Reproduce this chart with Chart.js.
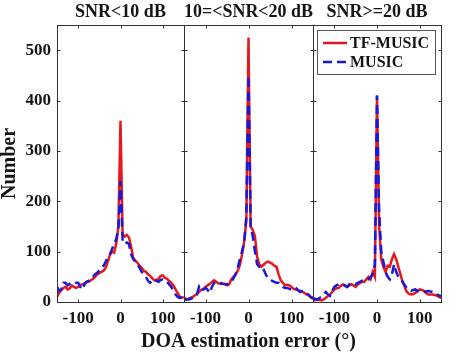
<!DOCTYPE html>
<html><head><meta charset="utf-8">
<script src="https://cdn.jsdelivr.net/npm/chart.js@4"></script>
<style>
html,body{margin:0;padding:0;background:#fff;}
#wrap{position:relative;width:474px;height:355px;overflow:hidden;background:#fff}
canvas{position:absolute;top:0}
</style></head><body>
<div id="wrap">
<canvas id="c1" width="200" height="355" style="left:0px"></canvas>
<canvas id="c2" width="300" height="355" style="left:100px"></canvas>
<canvas id="c3" width="224" height="355" style="left:250px"></canvas>
</div>
<script>
// ---- data ----
const errorBins = [-150,-145,-140,-135,-130,-125,-120,-115,-110,-105,-100,-95,-90,-85,-80,-75,-70,-65,-60,-55,-50,-45,-40,-35,-30,-25,-20,-15,-10,-5,0,5,10,15,20,25,30,35,40,45,50,55,60,65,70,75,80,85,90,95,100,105,110,115,120,125,130,135,140,145,150];
const panelTitles = ["SNR<10 dB", "10=<SNR<20 dB", "SNR>=20 dB"];
const seriesNames = ["TF-MUSIC", "MUSIC"];
const xTickValues = [-100, 0, 100];
const yTickValues = [0, 100, 200, 300, 400, 500];
const xAxisTitle = "DOA estimation error (°)";
const yAxisTitle = "Number";

const tfLow = [10,18,23,28,30,25,27,33,30,28,30,34,35,37,40,40,43,46,50,55,57,60,62,68,80,93,100,98,116,150,360,135,130,133,128,110,88,82,78,72,68,62,60,55,52,47,43,44,46,52,53,48,46,42,38,33,25,18,10,8,10];
const muLow = [30,22,25,38,38,33,36,38,36,38,38,30,25,35,40,42,45,50,55,58,63,68,72,80,90,95,105,115,125,145,240,120,115,118,115,95,85,80,75,68,60,55,50,42,38,42,45,42,40,44,45,42,40,35,30,22,15,10,8,12,12];
const tfMid = [8,6,6,8,10,13,16,20,24,26,30,33,36,40,43,40,37,36,36,36,33,35,45,50,55,62,73,95,120,162,525,150,143,130,90,75,70,74,78,80,78,76,72,70,55,43,38,33,34,33,30,26,25,23,22,20,18,15,13,9,6];
const muMid = [5,5,5,6,8,12,15,30,22,25,28,24,18,30,38,40,40,38,36,35,35,37,40,47,55,68,85,100,120,170,450,150,130,100,75,70,72,65,55,48,45,42,40,38,38,34,30,28,28,26,25,28,28,24,20,22,22,18,14,10,8];
const tfHigh = [3,4,5,4,3,5,8,12,15,20,25,27,28,32,35,33,30,33,35,33,30,35,38,40,40,45,50,45,60,50,410,150,85,70,60,72,70,85,95,85,70,55,40,30,20,16,15,16,18,22,25,24,22,18,15,15,15,14,13,10,8];
const muHigh = [8,6,5,8,10,15,20,15,12,22,30,33,35,36,35,32,30,35,38,37,35,38,40,42,42,44,45,50,55,75,410,180,100,80,60,50,45,55,75,60,50,45,40,33,28,25,22,24,25,22,20,20,20,21,22,21,20,18,15,13,12];

const tfMusic = [tfLow, tfMid, tfHigh];
const music = [muLow, muMid, muHigh];

// ---- style ----
const F = "'Liberation Serif', 'Times New Roman', serif";
const RED = 'rgb(230,24,30)';
const BLUE = 'rgb(24,24,215)';
const TXT = '#141414';
const FRAME = '#333333';

const framePlugin = {
  id: 'frame',
  afterDatasetsDraw(chart) {
    const {ctx, chartArea: a, scales: {x, y}} = chart;
    const L = Math.round(a.left) + 0.5, R = Math.round(a.right) + 0.5;
    const T = Math.round(a.top) + 0.5, B = Math.round(a.bottom) + 0.5;
    ctx.save();
    ctx.strokeStyle = FRAME; ctx.lineWidth = 1;
    ctx.beginPath();
    xTickValues.forEach(v => {
      const px = Math.round(x.getPixelForValue(v)) + 0.5;
      ctx.moveTo(px, B); ctx.lineTo(px, B - 3);
      ctx.moveTo(px, T); ctx.lineTo(px, T + 3);
    });
    yTickValues.forEach(v => {
      const py = Math.round(y.getPixelForValue(v)) + 0.5;
      ctx.moveTo(L, py); ctx.lineTo(L + 3, py);
      ctx.moveTo(R, py); ctx.lineTo(R - 3, py);
    });
    ctx.stroke();
    ctx.strokeRect(L, T, R - L, B - T);
    ctx.restore();
  }
};

const xTitlePlugin = {
  id: 'xTitle',
  afterDraw(chart) {
    const {ctx, chartArea: a} = chart;
    ctx.save();
    ctx.fillStyle = TXT; ctx.font = 'bold 20px ' + F;
    ctx.textAlign = 'center'; ctx.textBaseline = 'middle';
    ctx.fillText(xAxisTitle, (a.left + a.right) / 2, a.bottom + 40);
    ctx.restore();
  }
};

const legendPlugin = {
  id: 'boxLegend',
  afterDraw(chart) {
    const {ctx, chartArea: a} = chart;
    const x0 = Math.round(a.left) + 4, y0 = Math.round(a.top) + 5, w = 118, h = 44;
    ctx.save();
    ctx.fillStyle = '#fff'; ctx.fillRect(x0, y0, w, h);
    ctx.strokeStyle = '#555'; ctx.lineWidth = 1; ctx.strokeRect(x0 + 0.5, y0 + 0.5, w, h);
    chart.data.datasets.forEach((ds, i) => {
      const cy = y0 + 13 + i * 19;
      ctx.strokeStyle = ds.borderColor; ctx.lineWidth = ds.borderWidth;
      ctx.setLineDash(ds.borderDash || []);
      ctx.beginPath(); ctx.moveTo(x0 + 6, cy); ctx.lineTo(x0 + 30, cy); ctx.stroke();
      ctx.setLineDash([]);
      ctx.fillStyle = TXT; ctx.font = 'bold 16px ' + F; ctx.textBaseline = 'middle';
      ctx.fillText(ds.label, x0 + 33, cy + 1);
    });
    ctx.restore();
  }
};

function makePanel(id, idx, o) {
  const red = tfMusic[idx], blue = music[idx];
  const plugins = [framePlugin];
  if (o.xTitle) plugins.push(xTitlePlugin);
  if (o.legend) plugins.push(legendPlugin);
  return new Chart(document.getElementById(id), {
    type: 'line',
    data: {
      datasets: [
        {label: seriesNames[0], data: errorBins.map((b, i) => ({x: b, y: red[i]})),
         borderColor: RED, backgroundColor: RED, borderWidth: 2.5, pointRadius: 0, tension: 0, order: 2},
        {label: seriesNames[1], data: errorBins.map((b, i) => ({x: b, y: blue[i]})),
         borderColor: BLUE, backgroundColor: BLUE, borderWidth: 2.5, borderDash: [9, 5], pointRadius: 0, tension: 0, order: 1}
      ]
    },
    options: {
      responsive: false, animation: false, devicePixelRatio: 1,
      layout: {padding: {left: 0, right: o.padRight, top: 0, bottom: 0}},
      plugins: {
        legend: {display: false},
        tooltip: {enabled: false},
        title: {display: true, text: panelTitles[idx], fullSize: false, color: TXT,
                font: {family: F, size: 18, weight: 'bold', lineHeight: 1.2}, padding: {top: 2, bottom: 1.4}}
      },
      scales: {
        x: {
          type: 'linear', min: -150, max: 150,
          grid: {display: false, drawTicks: false}, border: {display: false},
          afterBuildTicks: s => { s.ticks = xTickValues.map(v => ({value: v})); },
          ticks: {color: TXT, font: {family: F, size: 17, weight: 'bold'}, padding: 6, maxRotation: 0, autoSkip: false},
          afterFit: s => { s.height = 53; }
        },
        y: {
          type: 'linear', min: 0, max: 550,
          grid: {display: false, drawTicks: false}, border: {display: false},
          afterBuildTicks: s => { s.ticks = yTickValues.map(v => ({value: v})); },
          ticks: {display: o.yLabels, color: TXT, font: {family: F, size: 17, weight: 'bold'}, padding: 6},
          title: {display: o.yLabels, text: yAxisTitle, color: TXT, font: {family: F, size: 20, weight: 'bold', lineHeight: 1}, padding: {top: 0, bottom: 0}},
          afterFit: s => { s.width = o.yWidth; }
        }
      }
    },
    plugins: plugins
  });
}

makePanel('c1', 0, {padRight: 16, yWidth: 57, yLabels: true, xTitle: false, legend: false});
makePanel('c2', 1, {padRight: 87, yWidth: 84, yLabels: false, xTitle: true, legend: false});
makePanel('c3', 2, {padRight: 33, yWidth: 63, yLabels: false, xTitle: false, legend: true});
</script>
</body></html>
